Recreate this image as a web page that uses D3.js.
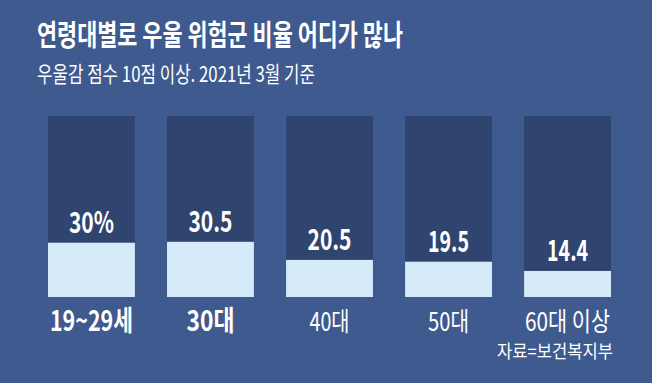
<!DOCTYPE html>
<html><head><meta charset="utf-8">
<script src="https://cdn.jsdelivr.net/npm/d3@7"></script>
<style>
html,body{margin:0;padding:0;background:#3e5a8e;}
svg{display:block;}
text{font-family:"Noto Sans CJK KR","Liberation Sans",sans-serif;}
</style></head>
<body>
<script>
const categories = ["19~29세", "30대", "40대", "50대", "60대 이상"];
const values = [30, 30.5, 20.5, 19.5, 14.4];
const valueLabels = ["30%", "30.5", "20.5", "19.5", "14.4"];
const boldCategory = [true, true, false, false, false];
const fullValue = 100;

const W = 652, H = 383;
const svg = d3.select("body").append("svg").attr("width", W).attr("height", H);
svg.append("rect").attr("width", W).attr("height", H).attr("fill", "#3e5a8e");

const x = d3.scaleBand().domain(categories).range([48, 611]).paddingInner(0.27).paddingOuter(0);
const y = d3.scaleLinear().domain([0, fullValue]).range([297, 116]);

// title
svg.append("text").attr("x", 37).attr("y", 46)
  .attr("font-size", 29).attr("font-weight", 700).attr("fill", "#fff")
  .attr("textLength", 366).attr("lengthAdjust", "spacingAndGlyphs")
  .text("연령대별로 우울 위험군 비율 어디가 많나");
svg.append("text").attr("x", 37).attr("y", 82)
  .attr("font-size", 22).attr("font-weight", 400).attr("fill", "#fff")
  .attr("textLength", 278).attr("lengthAdjust", "spacingAndGlyphs")
  .text("우울감 점수 10점 이상. 2021년 3월 기준");

const g = svg.append("g");
const data = categories.map((c, i) => ({c, v: values[i], lab: valueLabels[i], b: boldCategory[i]}));

g.selectAll("rect.bg").data(data).join("rect").attr("class", "bg")
  .attr("x", d => x(d.c)).attr("width", x.bandwidth())
  .attr("y", y(fullValue)).attr("height", y(0) - y(fullValue))
  .attr("fill", "#2f446f");

g.selectAll("rect.val").data(data).join("rect").attr("class", "val")
  .attr("x", d => x(d.c)).attr("width", x.bandwidth())
  .attr("y", d => y(d.v)).attr("height", d => y(0) - y(d.v))
  .attr("fill", "#d5ebfa");

const vl = { "30%": 45, "30.5": 44, "20.5": 44, "19.5": 41, "14.4": 41 };
g.selectAll("text.vl").data(data).join("text").attr("class", "vl")
  .attr("x", d => x(d.c) + x.bandwidth() / 2).attr("y", d => y(d.v) - 10)
  .attr("text-anchor", "middle").attr("font-size", 29).attr("font-weight", 700)
  .attr("font-family", "'Liberation Sans', Arial, sans-serif")
  .attr("fill", "#fff")
  .attr("textLength", d => vl[d.lab]).attr("lengthAdjust", "spacingAndGlyphs")
  .text(d => d.lab);

const cl = { "19~29세": 83, "30대": 48, "40대": 40, "50대": 41, "60대 이상": 85 };
g.selectAll("text.cl").data(data).join("text").attr("class", "cl")
  .attr("x", d => x(d.c) + x.bandwidth() / 2).attr("y", 331)
  .attr("text-anchor", "middle")
  .attr("font-size", d => d.b ? 28 : 26).attr("font-weight", d => d.b ? 700 : 400)
  .attr("fill", "#fff")
  .attr("textLength", d => cl[d.c]).attr("lengthAdjust", "spacingAndGlyphs")
  .text(d => d.c);

svg.append("text").attr("x", 613).attr("y", 358).attr("text-anchor", "end")
  .attr("font-size", 18).attr("fill", "#fff")
  .attr("textLength", 116).attr("lengthAdjust", "spacingAndGlyphs")
  .text("자료=보건복지부");
</script>
</body></html>
